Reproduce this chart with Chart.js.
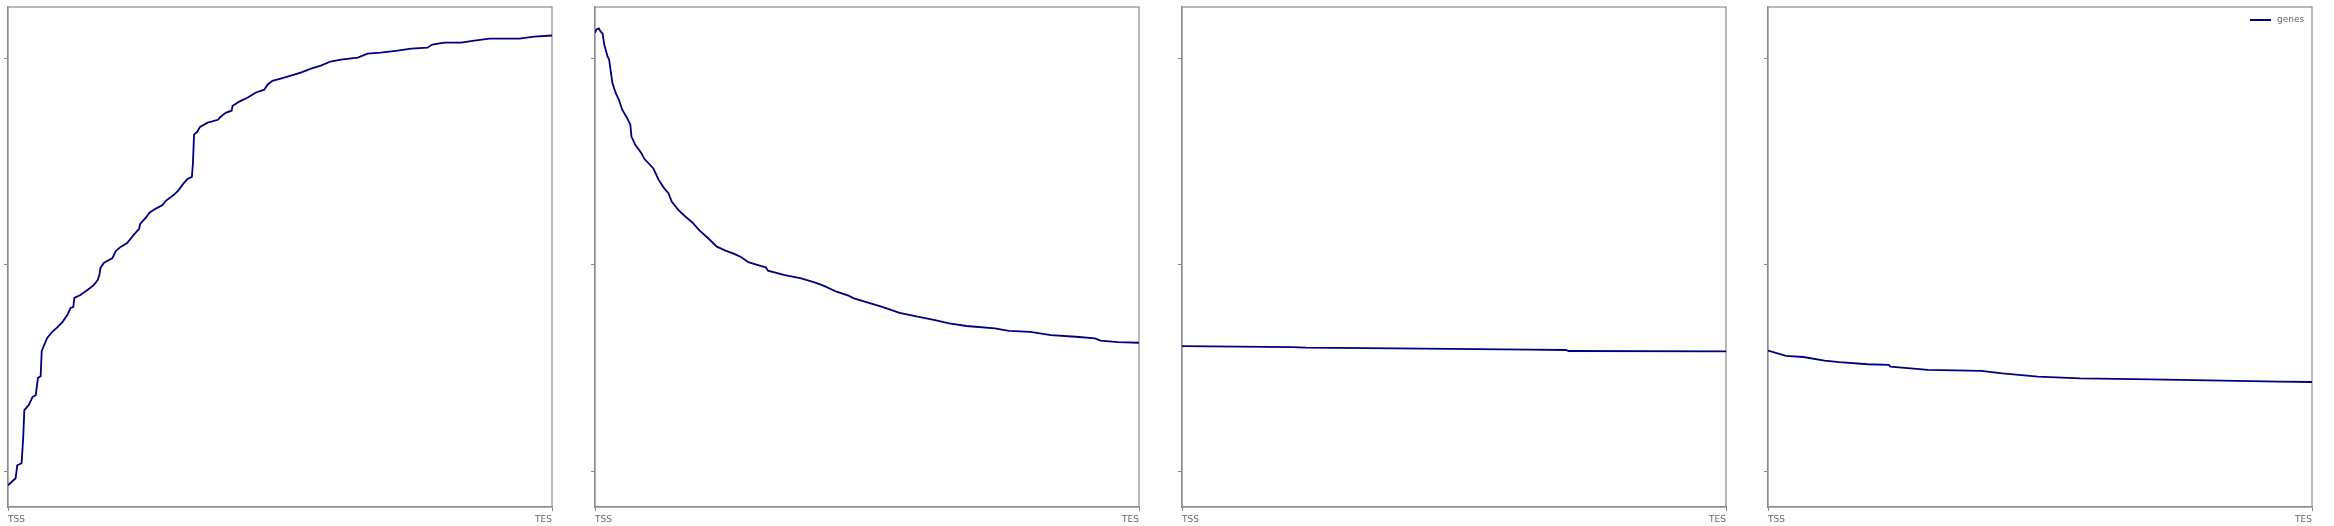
<!DOCTYPE html>
<html>
<head>
<meta charset="utf-8">
<script src="https://cdn.jsdelivr.net/npm/chart.js@4.4.1/dist/chart.umd.min.js"></script>
<style>
  html, body { margin: 0; padding: 0; background: #ffffff; }
  body { width: 2334px; height: 526px; position: relative; overflow: hidden; }
  .panel { position: absolute; top: 0; height: 526px; }
</style>
</head>
<body>
<div class="panel" id="p1"><canvas id="c1"></canvas></div>
<div class="panel" id="p2"><canvas id="c2"></canvas></div>
<div class="panel" id="p3"><canvas id="c3"></canvas></div>
<div class="panel" id="p4"><canvas id="c4"></canvas></div>
<script>
// ---- data (x: percent of scaled region TSS->TES, y: signal) ----
const xTickLabels = ['TSS', 'TES'];
const yTickValues = [0, 1, 2];
const seriesName = 'genes';

const panel1X = [0, 1.4, 1.7, 2.5, 2.8, 3.0, 3.8, 4.5, 5.1, 5.5, 6.0, 6.2, 6.8, 7.2, 8.1, 9.1, 10.0, 10.9, 11.5, 12.0, 12.2, 13.3, 14.6, 15.8, 16.5, 16.8, 17.0, 17.6, 19.2, 19.8, 20.7, 21.9, 23.1, 24.1, 24.3, 25.3, 26.0, 27.1, 28.4, 29.0, 30.5, 31.4, 32.2, 33.0, 33.8, 34.0, 34.2, 34.8, 35.3, 36.7, 38.6, 39.1, 40.0, 41.1, 41.3, 42.5, 44.0, 45.5, 47.1, 47.7, 48.6, 50.1, 52.0, 53.8, 55.7, 57.5, 59.3, 61.2, 64.3, 66.1, 68.5, 71.6, 74.1, 77.1, 78.0, 80.2, 83.3, 85.7, 88.5, 91.2, 94.0, 96.7, 100];
const panel1Y = [-0.068, -0.034, 0.029, 0.039, 0.165, 0.296, 0.320, 0.359, 0.368, 0.451, 0.460, 0.582, 0.620, 0.645, 0.674, 0.698, 0.722, 0.756, 0.790, 0.795, 0.839, 0.853, 0.877, 0.902, 0.926, 0.950, 0.984, 1.008, 1.032, 1.066, 1.086, 1.105, 1.144, 1.173, 1.197, 1.226, 1.251, 1.270, 1.289, 1.309, 1.338, 1.362, 1.391, 1.415, 1.425, 1.493, 1.629, 1.643, 1.667, 1.687, 1.701, 1.716, 1.735, 1.745, 1.769, 1.789, 1.808, 1.832, 1.847, 1.871, 1.890, 1.900, 1.915, 1.929, 1.949, 1.963, 1.983, 1.992, 2.002, 2.021, 2.026, 2.036, 2.046, 2.050, 2.065, 2.075, 2.075, 2.084, 2.094, 2.094, 2.094, 2.104, 2.109];

const panel2X = [0, 0.26, 0.7, 1.0, 1.4, 1.7, 2.3, 2.6, 3.2, 3.8, 4.4, 5.0, 5.9, 6.5, 6.7, 7.4, 8.5, 9.1, 10.7, 11.7, 12.7, 13.5, 14.1, 15.3, 16.6, 17.9, 19.1, 21.0, 22.4, 24.0, 25.6, 26.9, 28.2, 29.8, 31.4, 31.8, 34.7, 37.9, 40.5, 42.1, 44.4, 46.6, 47.6, 50.2, 52.8, 56.0, 59.3, 62.5, 65.1, 68.3, 73.5, 76.1, 80.0, 83.8, 88.4, 91.9, 92.9, 96.1, 100];
const panel2Y = [2.122, 2.138, 2.143, 2.130, 2.118, 2.065, 2.008, 1.992, 1.879, 1.831, 1.798, 1.750, 1.710, 1.677, 1.620, 1.580, 1.540, 1.511, 1.467, 1.411, 1.370, 1.346, 1.305, 1.265, 1.233, 1.204, 1.168, 1.123, 1.087, 1.068, 1.052, 1.036, 1.012, 0.999, 0.987, 0.971, 0.950, 0.934, 0.913, 0.897, 0.869, 0.850, 0.837, 0.816, 0.796, 0.767, 0.748, 0.732, 0.716, 0.703, 0.692, 0.679, 0.675, 0.659, 0.651, 0.643, 0.632, 0.625, 0.622];

const panel3X = [0, 20.2, 22.8, 44.4, 64.0, 70.5, 71.1, 100];
const panel3Y = [0.606, 0.601, 0.598, 0.594, 0.589, 0.587, 0.582, 0.580];

const panel4X = [0, 3.3, 6.5, 10.4, 13.1, 18.3, 22.2, 22.5, 29.4, 39.2, 43.1, 49.6, 57.4, 70.5, 83.6, 93.9, 100];
const panel4Y = [0.584, 0.558, 0.553, 0.535, 0.528, 0.518, 0.515, 0.506, 0.491, 0.486, 0.474, 0.458, 0.450, 0.445, 0.439, 0.434, 0.432];

// ---- layout ----
const panelLefts = [7.5, 594.5, 1181.5, 1768];
const panelWidth = 544;
const yAxisW = 8;
const rightPad = 6;
const plotTop = 7;
const plotBottom = 507;
const LINE = '#00007f';
const SPINE = '#8a8a8a';
const TEXT = '#666666';
const FONT = 'DejaVu Sans';

const framePlugin = {
  id: 'frame',
  beforeDatasetsDraw(chart) {
    const a = chart.chartArea;
    const ctx = chart.ctx;
    ctx.save();
    ctx.strokeStyle = SPINE;
    ctx.lineWidth = 1.2;
    ctx.strokeRect(a.left, a.top, a.right - a.left, a.bottom - a.top);
    ctx.restore();
  }
};

// legend drawn inside the plot area, upper right (like matplotlib loc='upper right')
const innerLegendPlugin = {
  id: 'innerLegend',
  afterDraw(chart) {
    const a = chart.chartArea;
    const ctx = chart.ctx;
    const ds = chart.data.datasets[0];
    const y = a.top + 13;
    ctx.save();
    ctx.strokeStyle = ds.borderColor;
    ctx.lineWidth = 2;
    ctx.beginPath();
    ctx.moveTo(a.right - 62, y);
    ctx.lineTo(a.right - 41, y);
    ctx.stroke();
    ctx.fillStyle = TEXT;
    ctx.font = '9px "' + FONT + '"';
    ctx.textBaseline = 'middle';
    ctx.textAlign = 'left';
    ctx.fillText(ds.label, a.right - 35, y);
    ctx.restore();
  }
};

function makePanel(i, xs, ys, showLegend) {
  const div = document.getElementById('p' + (i + 1));
  div.style.left = (panelLefts[i] - yAxisW) + 'px';
  div.style.width = (panelWidth + yAxisW + rightPad) + 'px';
  const pts = xs.map((x, k) => ({ x: x, y: ys[k] }));
  const plugins = [framePlugin];
  if (showLegend) plugins.push(innerLegendPlugin);
  new Chart(document.getElementById('c' + (i + 1)), {
    type: 'line',
    data: {
      datasets: [{
        label: seriesName,
        data: pts,
        borderColor: LINE,
        backgroundColor: LINE,
        borderWidth: 1.8,
        pointRadius: 0,
        tension: 0,
        fill: false
      }]
    },
    plugins: plugins,
    options: {
      responsive: true,
      maintainAspectRatio: false,
      animation: false,
      events: [],
      layout: { padding: { top: plotTop, right: rightPad, left: 0, bottom: 0 } },
      plugins: {
        title: { display: false },
        tooltip: { enabled: false },
        legend: { display: false }
      },
      scales: {
        x: {
          type: 'linear',
          min: 0,
          max: 100,
          afterBuildTicks(s) { s.ticks = [{ value: 0 }, { value: 100 }]; },
          afterFit(s) { s.height = 526 - plotBottom; },
          ticks: {
            align: 'inner',
            maxRotation: 0,
            padding: 3,
            color: TEXT,
            font: { family: FONT, size: 9 },
            callback(v) { return v === 0 ? xTickLabels[0] : xTickLabels[1]; }
          },
          grid: { display: true, drawOnChartArea: false, drawTicks: true, tickLength: 4, color: SPINE },
          border: { display: true, color: SPINE, width: 1.2 }
        },
        y: {
          type: 'linear',
          min: -0.173,
          max: 2.247,
          afterBuildTicks(s) { s.ticks = yTickValues.map(v => ({ value: v })); },
          afterFit(s) { s.width = yAxisW; },
          ticks: { display: false },
          grid: { display: true, drawOnChartArea: false, drawTicks: true, tickLength: 4, color: SPINE },
          border: { display: true, color: SPINE, width: 1.2 }
        }
      }
    }
  });
}

makePanel(0, panel1X, panel1Y, false);
makePanel(1, panel2X, panel2Y, false);
makePanel(2, panel3X, panel3Y, false);
makePanel(3, panel4X, panel4Y, true);
</script>
</body>
</html>
